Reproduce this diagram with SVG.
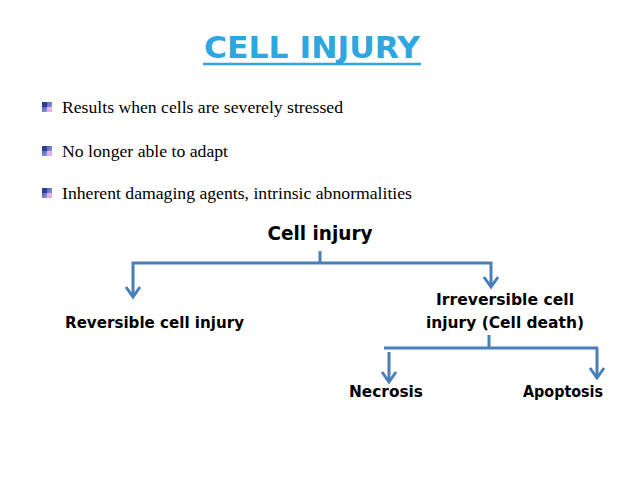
<svg xmlns="http://www.w3.org/2000/svg" width="638" height="478" viewBox="0 0 638 478">
<defs>
<style>
.lbl{font-family:"Comic Sans MS","DejaVu Sans",sans-serif;font-weight:bold;fill:#000;}
.bul{font-family:"Liberation Serif",serif;font-size:17px;fill:#000;}
.con{stroke:#4a7ebb;stroke-width:3;fill:none;}
</style>
<linearGradient id="bg" x1="0" y1="0" x2="1" y2="1">
<stop offset="0" stop-color="#3a4fa0"/><stop offset="0.5" stop-color="#6a80d0"/><stop offset="1" stop-color="#e0a0e0"/>
</linearGradient>
<g id="sq">
<rect x="0" y="0" width="10" height="10" fill="url(#bg)"/>
<rect x="0" y="0" width="5" height="5" fill="#2c3f8c"/>
<rect x="5" y="5" width="5" height="5" fill="#e6b0e6"/>
</g>
</defs>
<rect width="638" height="478" fill="#fff"/>
<g id="title">
<text x="312" y="58" text-anchor="middle" class="lbl" font-size="30" fill="#2ea6e0" style="fill:#2ea6e0" textLength="216" lengthAdjust="spacingAndGlyphs">CELL INJURY</text>
<line x1="203" y1="64" x2="421" y2="64" stroke="#2ea6e0" stroke-width="2.5"/>
</g>
<g id="bullets">
<use href="#sq" x="42" y="102"/>
<text x="62" y="113" class="bul" textLength="281" lengthAdjust="spacingAndGlyphs">Results when cells are severely stressed</text>
<use href="#sq" x="42" y="146"/>
<text x="62" y="157" class="bul" textLength="166" lengthAdjust="spacingAndGlyphs">No longer able to adapt</text>
<use href="#sq" x="42" y="188"/>
<text x="62" y="199" class="bul" textLength="350" lengthAdjust="spacingAndGlyphs">Inherent damaging agents, intrinsic abnormalities</text>
</g>
<g id="connectors">
<polyline class="con" points="320,251 320,263"/>
<polyline class="con" points="133,297 133,263 491,263 491,287"/>
<polyline class="con" points="126,287 133,297 140,287"/>
<polyline class="con" points="484,277 491,287 498,277"/>
<polyline class="con" points="489,335 489,348"/>
<line class="con" x1="384" y1="348" x2="598" y2="348"/>
<polyline class="con" points="389,352 389,382"/>
<polyline class="con" points="382,372 389,382 396,372"/>
<polyline class="con" points="597,348 597,378"/>
<polyline class="con" points="590,368 597,378 604,368"/>
</g>
<g id="n-cell-injury">
<text x="320" y="240" text-anchor="middle" class="lbl" font-size="19" textLength="105" lengthAdjust="spacingAndGlyphs">Cell injury</text>
</g>
<g id="n-reversible">
<text x="65" y="328" class="lbl" font-size="16" textLength="179" lengthAdjust="spacingAndGlyphs">Reversible cell injury</text>
</g>
<g id="n-irreversible">
<text x="505" y="305" text-anchor="middle" class="lbl" font-size="16" textLength="138" lengthAdjust="spacingAndGlyphs">Irreversible cell</text>
<text x="505" y="328" text-anchor="middle" class="lbl" font-size="16" textLength="158" lengthAdjust="spacingAndGlyphs">injury (Cell death)</text>
</g>
<g id="n-necrosis">
<text x="349" y="397" class="lbl" font-size="16" textLength="74" lengthAdjust="spacingAndGlyphs">Necrosis</text>
</g>
<g id="n-apoptosis">
<text x="523" y="397" class="lbl" font-size="16" textLength="80" lengthAdjust="spacingAndGlyphs">Apoptosis</text>
</g>
</svg>
